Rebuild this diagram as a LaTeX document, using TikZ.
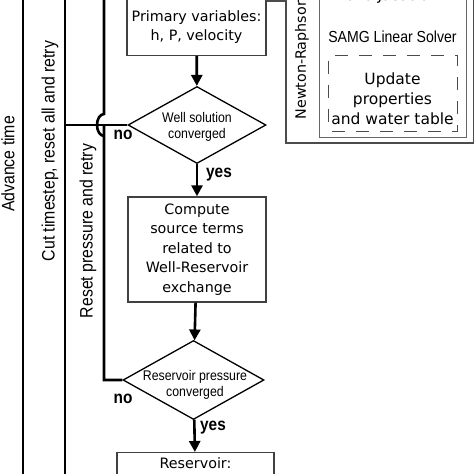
\documentclass[tikz,border=0pt]{standalone}
\usepackage{fontspec}
\usepackage{tikz}
\usetikzlibrary{shapes.geometric}
\usetikzlibrary{arrows.meta}
\newfontfamily\boxfont{DejaVu Sans}
\newfontfamily\narrowfont{Liberation Sans}[FakeStretch=0.88]

\begin{document}
\begin{tikzpicture}[x=1pt, y=-1pt,
  box/.style={rectangle, draw=black!75, line width=1.4pt, inner sep=0pt},
  boxtext/.style={font=\boxfont\fontsize{14.3}{19.5}\selectfont, align=center},
  cond/.style={diamond, draw, line width=1.3pt, inner sep=0pt},
  condtext/.style={font=\narrowfont\fontsize{14}{16.5}\selectfont, align=center},
  side/.style={rotate=90, font=\narrowfont\fontsize{18}{18}\selectfont},
  tag/.style={font=\narrowfont\bfseries\fontsize{17.5}{17.5}\selectfont},
  flow/.style={line width=2.6pt, -{Triangle[length=11pt,width=11pt]}},
  loop/.style={line width=2.6pt}]
\useasboundingbox (0,0) rectangle (474,474);
\clip (0,0) rectangle (474,474);

% well part
\node [box, minimum width=139pt, minimum height=90pt, anchor=south] (vars) at (196.5,56) {};
\node [boxtext] (varstext) at (196.5,27) {Primary variables:\\h, P, velocity};
\node [cond, minimum width=138pt, minimum height=77pt] (wellq) at (197,125) {};
\node [condtext] (wellqtext) at (197,127) {Well solution\\converged};
\node [box, boxtext, minimum width=138pt, minimum height=105pt] (src) at (197,249.5)
  {Compute\\source terms\\related to\\Well-Reservoir\\exchange};
\node [cond, minimum width=141pt, minimum height=79pt] (resq) at (193.5,380) {};
\node [condtext] (resqtext) at (195,385) {Reservoir pressure\\converged};
\node [box, minimum width=157pt, minimum height=60pt, anchor=north] (res) at (195.5,452) {};
\node [boxtext] (restext) at (195.5,463) {Reservoir:};

% newton-raphson part
\node [box, draw=black!70, line width=1.8pt, minimum width=188pt, minimum height=190pt, anchor=south west] (nr) at (285,144) {};
\node [box, draw=black!60, line width=1.2pt, minimum width=147pt, minimum height=180pt, anchor=south west] (samg) at (319,138) {};
\node [box, draw=black!70, line width=1.2pt, dash pattern=on 13pt off 11pt, dash phase=-3pt, minimum width=129pt, minimum height=76pt, anchor=north west] (upd) at (328,55) {};
\node [font=\boxfont\fontsize{15.5}{20}\selectfont, align=center] (updtext) at (392.5,99) {Update\\properties\\and water table};
\node [font=\boxfont\fontsize{14.3}{14.3}\selectfont] (jac) at (392.5,-4) {and Jacobian};
\node [font=\narrowfont\fontsize{16}{16}\selectfont] (samgtext) at (392.5,37) {SAMG Linear Solver};
\node [side, font=\boxfont\fontsize{14.3}{14.3}\selectfont, anchor=west] (nrtext) at (302,123) {Newton-Raphson};

% side labels
\node [side] (advtext) at (8,164) {Advance time};
\node [side] (cuttext) at (50,151) {Cut timestep, reset all and retry};
\node [side] (rsttext) at (88,231) {Reset pressure and retry};

\coordinate (advtop) at (23,0);
\coordinate (advbot) at (23,474);
\coordinate (cuttop) at (65,0);
\coordinate (cutbot) at (65,474);
\coordinate (cutjoin) at (65,125);
\coordinate (rsttop) at (104,0);
\coordinate (hopin) at (104,114);
\coordinate (rstturn) at (104,380);
\coordinate (linkend) at (266,1);

\draw[loop] (advtop) -- (advbot);
\draw[loop] (cuttop) -- (cutbot);
\draw[loop] (wellq.west) -- (cutjoin);
\draw[loop] (resq.west) -- (rstturn) -- (hopin |- wellq.west) ++(0,11) arc[start angle=270, end angle=90, x radius=7pt, y radius=11pt] -- (rsttop);
\draw[line width=2pt, black!70] (linkend) -- (nr.west |- linkend);

\draw[flow] (vars) -- (wellq);
\draw[flow] (wellq) -- (src);
\draw[flow] (src) -- (resq);
\draw[flow] (resq) -- (res);

\node [tag] (wellno) at (123,135) {no};
\node [tag] (wellyes) at (219,175) {yes};
\node [tag] (resno) at (123,399) {no};
\node [tag] (resyes) at (213,428) {yes};
\end{tikzpicture}
\end{document}
